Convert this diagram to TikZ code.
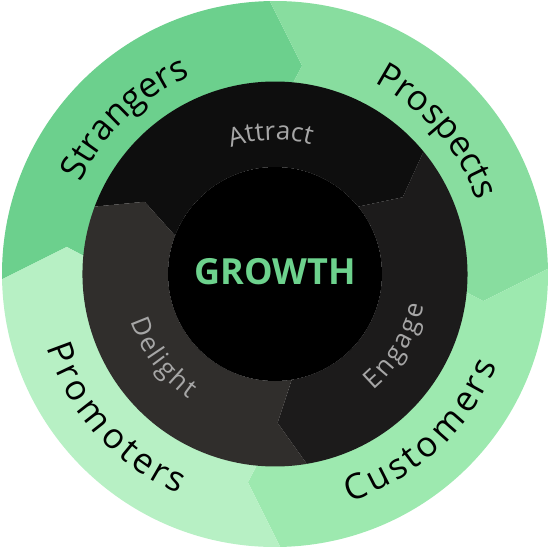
\documentclass[tikz,border=0pt]{standalone}
\usepackage{fontspec}
\setmainfont{Open Sans}
\usepackage{tikz}
\usetikzlibrary{decorations.text}
\definecolor{cStr}{HTML}{6CD08D}
\definecolor{cPro}{HTML}{88DD9F}
\definecolor{cCus}{HTML}{9DE9AF}
\definecolor{cPrm}{HTML}{B7F0C4}
\definecolor{cAtt}{HTML}{0E0E0E}
\definecolor{cEng}{HTML}{1C1B1B}
\definecolor{cDel}{HTML}{302E2C}
\definecolor{cTxt}{HTML}{A6A6A6}
\definecolor{cGro}{HTML}{6DD28D}
\newcommand{\ofont}{\fontsize{35}{35}\selectfont}
\newcommand{\ifont}{\fontsize{26}{26}\selectfont}
\tikzstyle{olbl} = [decorate, decoration={text along path, text align=center, text color=black}]
\tikzstyle{ilbl} = [decorate, decoration={text along path, text align=center, text color=cTxt}]

\begin{document}
\begin{tikzpicture}[x=1pt, y=1pt]
\useasboundingbox (-275,-276) rectangle (275,274);
\foreach \a/\c in {82.6/cStr, -7.4/cPro, -97.4/cCus, 172.6/cPrm}
  \fill[\c] (\a+8.5:273) arc[start angle=\a+8.5, end angle=\a+98.5, radius=273]
    -- (\a+90:210) -- (\a+92:192) arc[start angle=\a+92, end angle=\a+2, radius=192]
    -- (\a:210) -- cycle;
\foreach \a/\c in {-89/cEng, 31/cAtt, 151/cDel}
  \fill[\c] (\a+8.5:192.5) arc[start angle=\a+8.5, end angle=\a+128.5, radius=192.5]
    -- (\a+120:149) -- (\a+128:107) arc[start angle=\a+128, end angle=\a+8, radius=107]
    -- (\a:149) -- cycle;
\node(core)[circle, fill=black, inner sep=0pt, minimum size=214pt] at (0,0) {};
\node(growth)[text=cGro, font=\bfseries\fontsize{36}{36}\selectfont] at (0,2.5) {GROWTH};
\path[olbl, decoration={text={|\ofont|Strangers}}] (194:215) arc[start angle=194, end angle=74, radius=215];
\path[olbl, decoration={text={|\ofont|Prospects}}] (101.3:215) arc[start angle=101.3, end angle=-18.7, radius=215];
\path[olbl, decoration={text={|\ofont|Customers}, raise=-39pt}] (-107.3:201) arc[start angle=-107.3, end angle=12.7, radius=201];
\path[olbl, decoration={text={|\ofont|Promoters}, raise=-39pt}] (162:201) arc[start angle=162, end angle=282, radius=201];
\path[ilbl, decoration={text={|\ifont|Attract}}] (141.8:134) arc[start angle=141.8, end angle=41.8, radius=134];
\path[ilbl, decoration={text={|\ifont|Engage}, raise=-22pt}] (-80.9:130) arc[start angle=-80.9, end angle=19.1, radius=130];
\path[ilbl, decoration={text={|\ifont|Delight}, raise=-22pt}] (166.6:130) arc[start angle=166.6, end angle=266.6, radius=130];
\end{tikzpicture}
\end{document}
